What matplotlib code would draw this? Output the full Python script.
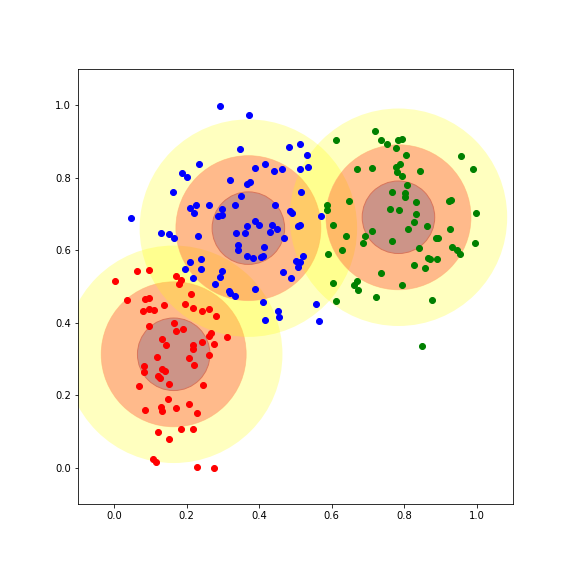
import numpy as np
import matplotlib.pyplot as plt

# cluster centres and the 1/2/3 sigma radius
centers = [(0.164, 0.313), (0.370, 0.661), (0.784, 0.691)]
sigma = 0.1

red_x = [0.064, 0.095, 0.001, 0.169, 0.185, 0.178, 0.034, 0.086, 0.095, 0.213,
         0.136, 0.078, 0.095, 0.111, 0.196, 0.218, 0.241, 0.260, 0.282, 0.097,
         0.166, 0.169, 0.191, 0.268, 0.260, 0.312, 0.133, 0.144, 0.243, 0.276,
         0.218, 0.216, 0.260, 0.117, 0.207, 0.081, 0.081, 0.133, 0.139, 0.219,
         0.122, 0.125, 0.150, 0.067, 0.246, 0.147, 0.086, 0.130, 0.133, 0.169,
         0.205, 0.229, 0.122, 0.150, 0.185, 0.216, 0.106, 0.114, 0.229, 0.274]
red_y = [0.543, 0.545, 0.515, 0.528, 0.517, 0.506, 0.462, 0.465, 0.467, 0.479,
         0.448, 0.432, 0.437, 0.434, 0.451, 0.440, 0.432, 0.437, 0.418, 0.390,
         0.399, 0.377, 0.382, 0.371, 0.363, 0.360, 0.355, 0.338, 0.346, 0.341,
         0.338, 0.327, 0.310, 0.305, 0.302, 0.280, 0.264, 0.272, 0.266, 0.283,
         0.253, 0.247, 0.231, 0.225, 0.228, 0.189, 0.159, 0.167, 0.156, 0.164,
         0.175, 0.151, 0.098, 0.079, 0.107, 0.107, 0.024, 0.016, 0.002, -0.001]

blue_x = [0.293, 0.373, 0.348, 0.483, 0.513, 0.533, 0.535, 0.513, 0.235, 0.187,
          0.202, 0.161, 0.387, 0.417, 0.440, 0.464, 0.318, 0.365, 0.374, 0.516,
          0.351, 0.260, 0.226, 0.209, 0.221, 0.334, 0.298, 0.444, 0.486, 0.285,
          0.298, 0.490, 0.569, 0.045, 0.128, 0.152, 0.164, 0.232, 0.337, 0.362,
          0.367, 0.387, 0.400, 0.436, 0.431, 0.449, 0.506, 0.513, 0.469, 0.342,
          0.340, 0.412, 0.365, 0.384, 0.404, 0.410, 0.521, 0.502, 0.513, 0.506,
          0.240, 0.209, 0.240, 0.194, 0.218, 0.297, 0.293, 0.279, 0.466, 0.488,
          0.389, 0.317, 0.320, 0.334, 0.411, 0.452, 0.455, 0.415, 0.557, 0.566]
blue_y = [0.999, 0.972, 0.878, 0.886, 0.892, 0.864, 0.831, 0.823, 0.839, 0.812,
          0.801, 0.762, 0.826, 0.837, 0.820, 0.824, 0.793, 0.782, 0.787, 0.762,
          0.751, 0.726, 0.724, 0.717, 0.704, 0.724, 0.715, 0.726, 0.708, 0.695,
          0.697, 0.702, 0.695, 0.688, 0.647, 0.644, 0.634, 0.638, 0.647, 0.647,
          0.667, 0.680, 0.669, 0.671, 0.649, 0.660, 0.667, 0.671, 0.633, 0.614,
          0.601, 0.608, 0.585, 0.580, 0.581, 0.585, 0.583, 0.570, 0.567, 0.555,
          0.576, 0.567, 0.548, 0.547, 0.523, 0.543, 0.525, 0.506, 0.539, 0.523,
          0.492, 0.488, 0.481, 0.474, 0.456, 0.433, 0.415, 0.407, 0.451, 0.405]

green_x = [0.720, 0.612, 0.736, 0.753, 0.783, 0.794, 0.778, 0.805, 0.957, 0.990,
           0.670, 0.712, 0.778, 0.789, 0.780, 0.794, 0.844, 0.808, 0.767, 0.802,
           0.802, 0.833, 0.924, 0.929, 0.648, 0.588, 0.588, 0.761, 0.786, 0.833,
           0.998, 0.827, 0.604, 0.811, 0.863, 0.926, 0.712, 0.640, 0.692, 0.687,
           0.767, 0.888, 0.894, 0.995, 0.629, 0.590, 0.841, 0.932, 0.946, 0.954,
           0.866, 0.871, 0.891, 0.827, 0.858, 0.736, 0.670, 0.662, 0.673, 0.604,
           0.794, 0.723, 0.612, 0.877, 0.849]
green_y = [0.930, 0.903, 0.903, 0.892, 0.903, 0.906, 0.883, 0.864, 0.861, 0.823,
           0.823, 0.826, 0.831, 0.839, 0.815, 0.804, 0.820, 0.779, 0.760, 0.757,
           0.748, 0.732, 0.737, 0.740, 0.735, 0.724, 0.710, 0.715, 0.710, 0.699,
           0.704, 0.677, 0.671, 0.660, 0.666, 0.660, 0.652, 0.638, 0.638, 0.619,
           0.625, 0.633, 0.633, 0.619, 0.602, 0.591, 0.605, 0.608, 0.602, 0.591,
           0.580, 0.575, 0.575, 0.558, 0.550, 0.536, 0.514, 0.503, 0.490, 0.509,
           0.503, 0.470, 0.459, 0.462, 0.335]

fig = plt.figure(figsize=(8, 8), dpi=72)
ax = fig.add_axes([78 / 576, 72 / 576, 435 / 576, 435 / 576])

# 3 sigma, 2 sigma, 1 sigma circles
for c in centers:
    ax.add_patch(plt.Circle(c, 3 * sigma, facecolor='yellow', edgecolor='none', alpha=0.25))
    ax.add_patch(plt.Circle(c, 2 * sigma, facecolor='red', edgecolor='none', alpha=0.27))
    ax.add_patch(plt.Circle(c, 2 * sigma, fill=False, edgecolor='#ffb070', lw=0.8, alpha=0.6))
    ax.add_patch(plt.Circle(c, sigma, facecolor='navy', edgecolor='none', alpha=0.2))
    ax.add_patch(plt.Circle(c, sigma, fill=False, edgecolor='#d8765c', lw=1.0))

ax.scatter(red_x, red_y, color='red', zorder=3)
ax.scatter(blue_x, blue_y, color='blue', zorder=3)
ax.scatter(green_x, green_y, color='green', zorder=3)

ax.set_xlim(-0.1, 1.1)
ax.set_ylim(-0.1, 1.1)
ax.set_xticks(np.arange(0, 1.01, 0.2))
ax.set_yticks(np.arange(0, 1.01, 0.2))

fig.savefig('out.png', dpi=72)
